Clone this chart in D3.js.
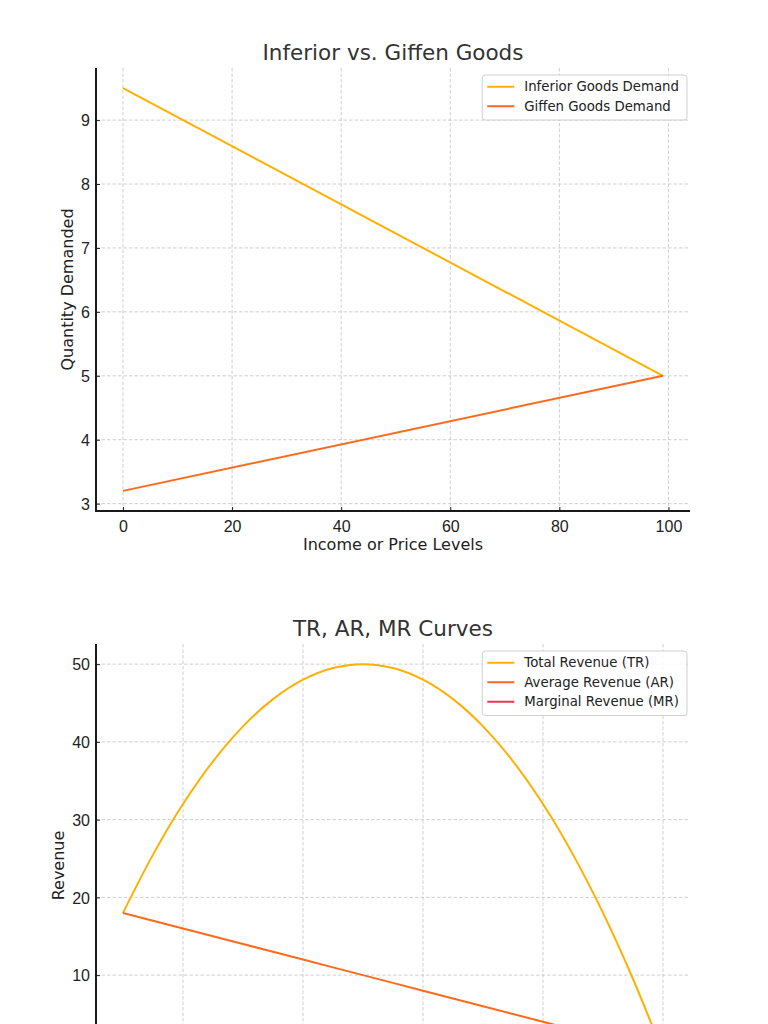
<!DOCTYPE html>
<html>
<head>
<meta charset="utf-8">
<script src="https://cdn.jsdelivr.net/npm/d3@7"></script>
<style>
  body { margin: 0; background: #fff; overflow: hidden; }
  svg { display: block; font-family: 'DejaVu Sans', sans-serif; }
  .grid line { stroke: #c4c4c4; stroke-width: 0.8; stroke-dasharray: 3.5,2; }
  .tick text { fill: #222; }
</style>
</head>
<body>
<div id="chart"></div>
<script>
// chart 1: inferior vs giffen goods
const incomeLevels = [0, 99];
const inferiorDemand = [9.5, 5.0];
const giffenDemand = [3.2, 5.0];
const topXTicks = [0, 20, 40, 60, 80, 100];
const topYTicks = [3, 4, 5, 6, 7, 8, 9];

// chart 2: revenue curves (cut off at the bottom of the page)
const quantity = [1, 1.5, 2, 2.5, 3, 3.5, 4, 4.5, 5, 5.5, 6, 6.5, 7, 7.5, 8, 8.5, 9, 9.5, 10];
const totalRevenue = [18, 25.5, 32, 37.5, 42, 45.5, 48, 49.5, 50, 49.5, 48, 45.5, 42, 37.5, 32, 25.5, 18, 9.5, 0];
const averageRevenue = [18, 17, 16, 15, 14, 13, 12, 11, 10, 9, 8, 7, 6, 5, 4, 3, 2, 1, 0];
const marginalRevenue = [1.44, 1.27, 1.09, 0.91, 0.73, 0.55, 0.36, 0.18, 0, -0.18, -0.36, -0.55, -0.73, -0.91, -1.09, -1.27, -1.45, -1.64, -1.8];
const bottomXTicks = [2, 4, 6, 8, 10];
const bottomYTicks = [10, 20, 30, 40, 50];

const colors = {
  inferior: '#ffb000',
  giffen: '#fe6a1c',
  tr: '#ffb000',
  ar: '#fe6a1c',
  mr: '#f2335a'
};

const svg = d3.select('#chart')
  .append('svg')
  .attr('width', 768)
  .attr('height', 1024);

svg.append('rect').attr('width', 768).attr('height', 1024).attr('fill', '#fff');

// matplotlib-like 5% padding
const padded = (values) => {
  const [lo, hi] = d3.extent(values);
  const m = (hi - lo) * 0.05;
  return [lo - m, hi + m];
};

const drawPanel = (opts) => {
  const { left, right, top, bottom } = opts.box;

  const x = d3.scaleLinear().domain(opts.xDomain).range([left, right]);
  const y = d3.scaleLinear().domain(opts.yDomain).range([bottom, top]);

  const g = svg.append('g');

  // grid
  const grid = g.append('g').attr('class', 'grid');
  grid.selectAll('.vx')
    .data(opts.xTicks)
    .enter().append('line')
      .attr('x1', d => x(d)).attr('x2', d => x(d))
      .attr('y1', top).attr('y2', bottom);
  grid.selectAll('.hy')
    .data(opts.yTicks)
    .enter().append('line')
      .attr('x1', left).attr('x2', right)
      .attr('y1', d => y(d)).attr('y2', d => y(d));

  // lines
  opts.series.forEach(s => {
    const pts = s.xs.map((v, i) => [v, s.ys[i]]);
    g.append('path')
      .datum(pts)
      .attr('fill', 'none')
      .attr('stroke', s.color)
      .attr('stroke-width', 2)
      .attr('stroke-linejoin', 'round')
      .attr('d', d3.line()
        .x(d => x(d[0]))
        .y(d => y(d[1]))
        .curve(s.smooth ? d3.curveCatmullRom : d3.curveLinear));
  });

  // axes with inward ticks
  const xAxis = d3.axisBottom(x).tickValues(opts.xTicks)
    .tickFormat(opts.showX ? d3.format('d') : () => '')
    .tickSizeInner(-4).tickSizeOuter(0).tickPadding(10);
  const yAxis = d3.axisLeft(y).tickValues(opts.yTicks)
    .tickFormat(d3.format('d'))
    .tickSizeInner(-4).tickSizeOuter(0).tickPadding(6);

  const gx = g.append('g')
    .attr('transform', 'translate(0,' + bottom + ')')
    .call(xAxis);
  gx.select('.domain').remove();
  gx.selectAll('.tick line').attr('stroke', '#222').attr('stroke-width', 1);
  gx.selectAll('text').style('font-size', '16px');
  if (!opts.showX) gx.selectAll('text').remove();

  const gy = g.append('g')
    .attr('transform', 'translate(' + left + ',0)')
    .call(yAxis);
  gy.select('.domain').remove();
  gy.selectAll('.tick line').attr('stroke', '#222').attr('stroke-width', 1);
  gy.selectAll('text').style('font-size', '16px').attr('dy', '0.36em');

  // spines
  g.append('line')
    .attr('x1', left).attr('x2', left)
    .attr('y1', top).attr('y2', bottom)
    .attr('stroke', '#1a1a1a').attr('stroke-width', 2);
  g.append('line')
    .attr('x1', left - 1).attr('x2', right)
    .attr('y1', bottom).attr('y2', bottom)
    .attr('stroke', '#1a1a1a').attr('stroke-width', 2);

  // title + labels
  g.append('text')
    .attr('x', (left + right) / 2)
    .attr('y', top - 8)
    .attr('text-anchor', 'middle')
    .style('font-size', '21.5px')
    .attr('fill', '#333')
    .text(opts.title);

  if (opts.xLabel) {
    g.append('text')
      .attr('x', (left + right) / 2)
      .attr('y', bottom + 39)
      .attr('text-anchor', 'middle')
      .style('font-size', '16px')
      .attr('fill', '#222')
      .text(opts.xLabel);
  }

  let minLeft = left;
  gy.selectAll('text').each(function() {
    const b = this.getBBox();
    minLeft = Math.min(minLeft, left + b.x);
  });
  g.append('text')
    .attr('transform', 'translate(' + (minLeft - 8) + ',' + ((top + bottom) / 2) + ') rotate(-90)')
    .attr('text-anchor', 'middle')
    .style('font-size', '16px')
    .attr('fill', '#222')
    .text(opts.yLabel);

  // legend
  const lg = g.append('g');
  const rowH = 19.5;
  const items = lg.selectAll('.item')
    .data(opts.series)
    .enter().append('g');
  items.append('text')
    .attr('x', 42)
    .attr('y', (d, i) => i * rowH)
    .attr('dy', '0.35em')
    .style('font-size', '13.3px')
    .attr('fill', '#222')
    .text(d => d.label);
  items.append('line')
    .attr('x1', 5).attr('x2', 32)
    .attr('y1', (d, i) => i * rowH).attr('y2', (d, i) => i * rowH)
    .attr('stroke', d => d.color)
    .attr('stroke-width', 2);
  let maxW = 0;
  items.selectAll('text').each(function() { maxW = Math.max(maxW, this.getComputedTextLength()); });
  const boxW = 42 + maxW + 8;
  const boxH = opts.series.length * rowH + 6;
  lg.insert('rect', ':first-child')
    .attr('x', 0).attr('y', 0)
    .attr('width', boxW).attr('height', boxH)
    .attr('rx', 3)
    .attr('fill', '#fff').attr('fill-opacity', 0.85)
    .attr('stroke', '#d0d0d0').attr('stroke-width', 1);
  items.attr('transform', 'translate(0,' + (rowH / 2 + 2) + ')');
  lg.attr('transform', 'translate(' + (right - 3 - boxW) + ',' + (top + 7) + ')');
};

drawPanel({
  box: { left: 96, right: 690, top: 68, bottom: 511 },
  xDomain: padded(incomeLevels),
  yDomain: padded(inferiorDemand.concat(giffenDemand)),
  xTicks: topXTicks,
  yTicks: topYTicks,
  showX: true,
  title: 'Inferior vs. Giffen Goods',
  xLabel: 'Income or Price Levels',
  yLabel: 'Quantity Demanded',
  series: [
    { xs: incomeLevels, ys: inferiorDemand, color: colors.inferior, label: 'Inferior Goods Demand' },
    { xs: incomeLevels, ys: giffenDemand, color: colors.giffen, label: 'Giffen Goods Demand' }
  ]
});

drawPanel({
  box: { left: 96, right: 690, top: 644, bottom: 1087 },
  xDomain: padded(quantity),
  yDomain: padded(totalRevenue.concat(averageRevenue, marginalRevenue)),
  xTicks: bottomXTicks,
  yTicks: bottomYTicks,
  showX: false,
  title: 'TR, AR, MR Curves',
  xLabel: null,
  yLabel: 'Revenue',
  series: [
    { xs: quantity, ys: totalRevenue, color: colors.tr, label: 'Total Revenue (TR)', smooth: true },
    { xs: quantity, ys: averageRevenue, color: colors.ar, label: 'Average Revenue (AR)' },
    { xs: quantity, ys: marginalRevenue, color: colors.mr, label: 'Marginal Revenue (MR)' }
  ]
});
</script>
</body>
</html>
